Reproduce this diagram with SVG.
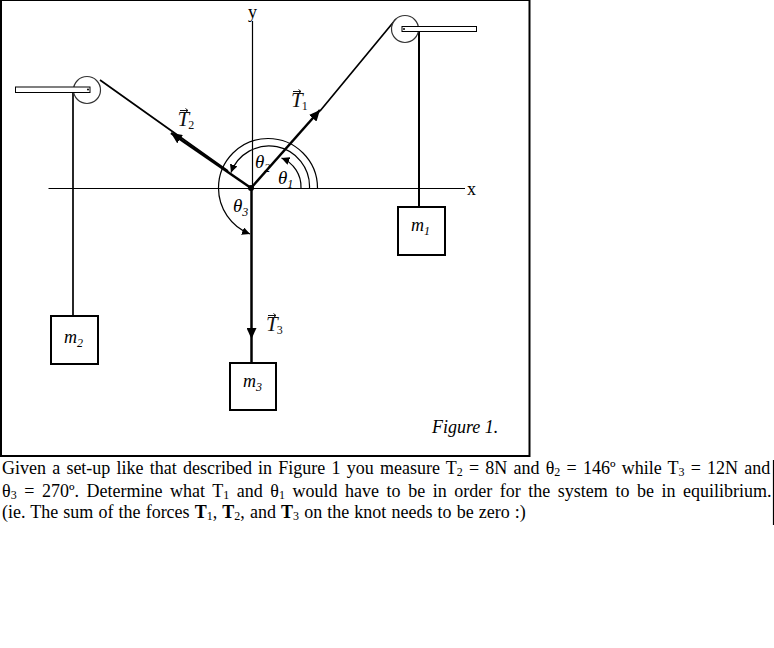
<svg xmlns="http://www.w3.org/2000/svg" width="774" height="648" viewBox="0 0 774 648">
<style>
.t{font-family:"Liberation Serif",serif;font-size:18px;fill:#000}
.s{font-size:12px}
.b{font-weight:bold}
.i{font-family:"Liberation Serif",serif;font-style:italic;fill:#000}
.m{font-size:18px}
.v{font-size:21px;fill:#111}
.th{font-size:19px}
.sub{font-size:12px}
.ax{font-family:"Liberation Serif",serif;font-size:18px;fill:#000}
.l{fill:none;stroke:#000;stroke-width:1.200}
.d{fill:none;stroke:#000;stroke-width:1.700}
.h{fill:none;stroke:#000;stroke-width:2.500}
.box{fill:#fff;stroke:#000;stroke-width:2}
.bar{fill:#fff;stroke:#000;stroke-width:1}
.p{fill:#fff;stroke:#333;stroke-width:1.200}
.va{fill:none;stroke:#111;stroke-width:1}
</style>
<defs>
<marker id="a" markerUnits="userSpaceOnUse" markerWidth="12" markerHeight="10" refX="11" refY="5" orient="auto"><path d="M0 0L11 5L0 10Z" fill="#000"/></marker>
<marker id="b" markerUnits="userSpaceOnUse" markerWidth="9" markerHeight="8" refX="8" refY="4" orient="auto"><path d="M0 0L8 4L0 8Z" fill="#000"/></marker>
</defs>
<rect id="frame" x="1" y="0" width="528.500" height="456" fill="#fff" stroke="#000" stroke-width="2"/>
<g id="axes">
<path class="l" d="M48.500 188.500H465M252.500 21V188"/>
<text class="ax" x="248" y="18">y</text>
<text class="ax" x="467" y="195">x</text>
</g>
<g id="connectors">
<path class="d" d="M396 19L320 111M100 80L228 171"/>
<path class="h" d="M251 188L320 110" marker-end="url(#a)"/>
<path class="h" d="M251 188L171 133" marker-end="url(#a)"/>
<path class="h" d="M251.500 188V339" marker-end="url(#a)"/>
<path class="h" d="M251.500 339V382"/>
<path class="d" d="M73 92V316"/>
<path class="l" d="M419 30V207" style="stroke-width:2"/>
<circle cx="251" cy="188" r="3" fill="#000"/>
<path class="l" d="M317.500 188A49.500 49.500 0 0 0 218.500 188A49.500 49.500 0 0 0 250 234" marker-end="url(#b)"/>
<path class="l" d="M309.500 188A40.500 40.500 0 0 0 231 172.500" marker-end="url(#b)"/>
<path class="l" d="M301 188A31 31 0 0 0 281.500 158" marker-end="url(#b)"/>
</g>
<g id="pulley-right">
<circle class="p" cx="405" cy="29" r="13.500"/>
<rect class="bar" x="402" y="26.500" width="74.500" height="5"/>
<circle cx="404" cy="29" r="1" fill="#000"/>
</g>
<g id="pulley-left">
<circle class="p" cx="87" cy="90" r="13.500"/>
<rect class="bar" x="15.500" y="87" width="74.500" height="5.500"/>
<circle cx="88" cy="89.500" r="1" fill="#000"/>
</g>
<g id="m1"><rect class="box" x="398" y="207" width="47" height="48"/><text class="i m" x="411" y="231">m<tspan class="sub" dy="4">1</tspan></text></g>
<g id="m2"><rect class="box" x="51" y="316" width="47" height="48"/><text class="i m" x="64" y="343">m<tspan class="sub" dy="4">2</tspan></text></g>
<g id="m3"><rect class="box" x="230" y="363" width="46" height="47"/><text class="i m" x="243" y="387">m<tspan class="sub" dy="4">3</tspan></text></g>
<g id="labels">
<text class="i v" x="291" y="107">T<tspan class="sub" dy="3" dx="-1" font-style="normal">1</tspan></text>
<path class="va" d="M293 91.500H301M298.500 89.500L301 91.500L298.500 93.500"/>
<text class="i v" x="177.500" y="126">T<tspan class="sub" dy="3" dx="-1" font-style="normal">2</tspan></text>
<path class="va" d="M180 110.500H188M185.500 108.500L188 110.500L185.500 112.500"/>
<text class="i v" x="266" y="331">T<tspan class="sub" dy="3" dx="-1" font-style="normal">3</tspan></text>
<path class="va" d="M268 315.500H276M273.500 313.500L276 315.500L273.500 317.500"/>
<text class="i th" x="255" y="168">θ<tspan class="sub" dy="4">2</tspan></text>
<text class="i th" x="278" y="184">θ<tspan class="sub" dy="4">1</tspan></text>
<text class="i th" x="233" y="212">θ<tspan class="sub" dy="4">3</tspan></text>
<text class="i" font-size="18" x="432" y="433">Figure 1.</text>
</g>
<g id="caption">
<path d="M773.500 460V525" stroke="#000" stroke-width="1.200"/>
<text class="t" x="2" y="474" word-spacing="1.700">Given a set-up like that described in Figure 1 you measure T<tspan class="s" dy="2">2</tspan><tspan dy="-2"> = 8N and θ</tspan><tspan class="s" dy="2">2</tspan><tspan dy="-2"> = 146º while T</tspan><tspan class="s" dy="2">3</tspan><tspan dy="-2"> = 12N and</tspan></text>
<text class="t" x="2" y="497" word-spacing="3.050">θ<tspan class="s" dy="2">3</tspan><tspan dy="-2"> = 270º. Determine what T</tspan><tspan class="s" dy="2">1</tspan><tspan dy="-2"> and θ</tspan><tspan class="s" dy="2">1</tspan><tspan dy="-2"> would have to be in order for the system to be in equilibrium.</tspan></text>
<text class="t" x="2" y="518" word-spacing="0.600">(ie. The sum of the forces <tspan class="b">T</tspan><tspan class="s" dy="2">1</tspan><tspan dy="-2">, </tspan><tspan class="b">T</tspan><tspan class="s" dy="2">2</tspan><tspan dy="-2">, and </tspan><tspan class="b">T</tspan><tspan class="s" dy="2">3</tspan><tspan dy="-2"> on the knot needs to be zero :)</tspan></text>
</g>
</svg>
